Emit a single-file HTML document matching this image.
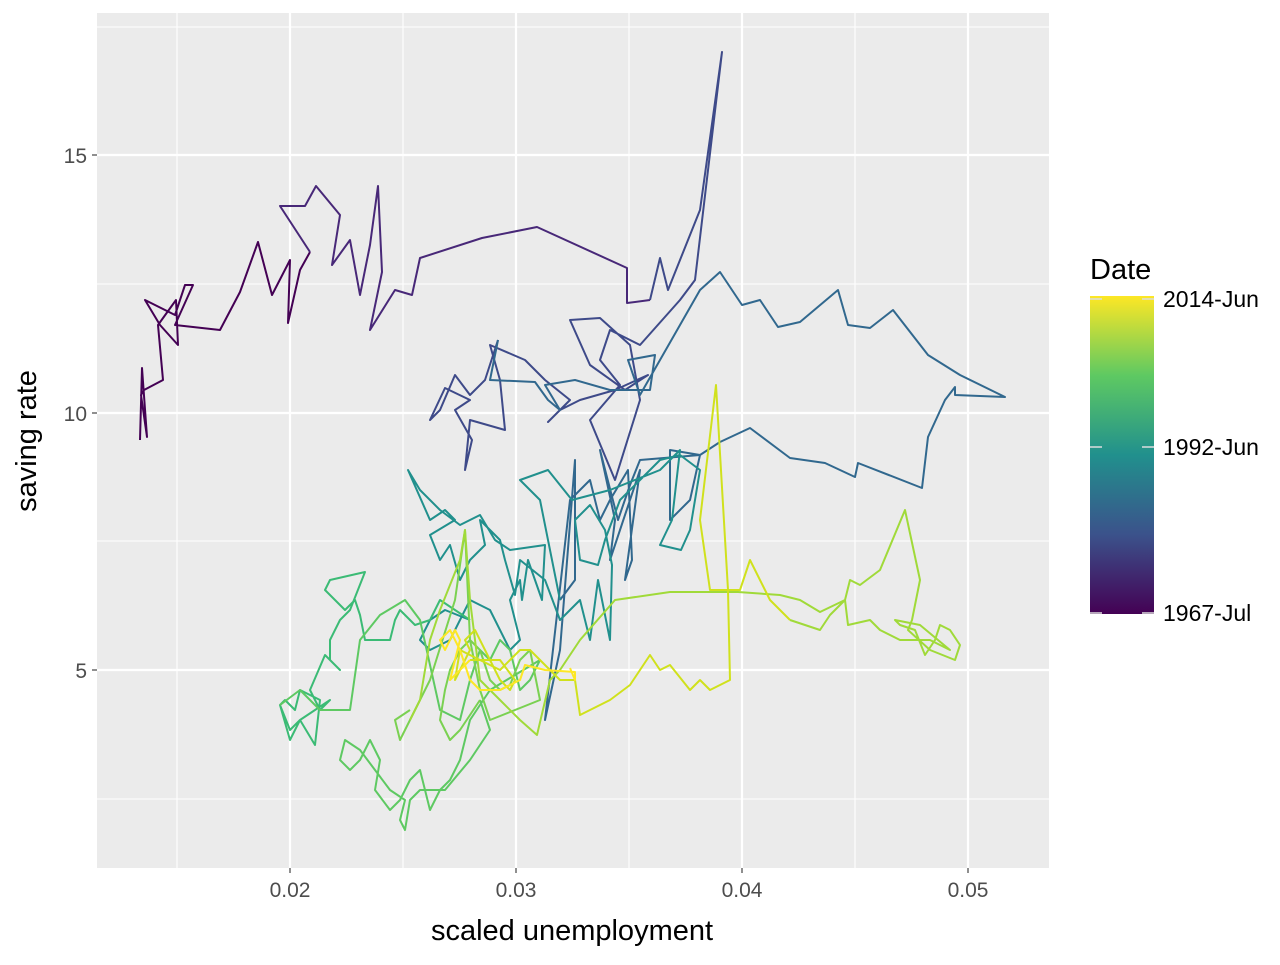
<!DOCTYPE html>
<html><head><meta charset="utf-8"><style>
html,body{margin:0;padding:0;background:#fff;}
svg text{font-family:"Liberation Sans",sans-serif;}
</style></head><body>
<svg width="1280" height="960" viewBox="0 0 1280 960" xmlns="http://www.w3.org/2000/svg">
<defs>
<linearGradient id="vg" x1="0" y1="1" x2="0" y2="0">
<stop offset="0" stop-color="#440154"/><stop offset="0.25" stop-color="#3b528b"/>
<stop offset="0.5" stop-color="#21908d"/><stop offset="0.75" stop-color="#5ec962"/>
<stop offset="1" stop-color="#fde725"/></linearGradient>
<clipPath id="cp"><rect x="97" y="13" width="952" height="855"/></clipPath>
</defs>
<rect x="97" y="13" width="952" height="855" fill="#ebebeb"/>
<g stroke="#fff" stroke-width="1.1">
<line x1="177" y1="13" x2="177" y2="868"/><line x1="403" y1="13" x2="403" y2="868"/>
<line x1="629" y1="13" x2="629" y2="868"/><line x1="855" y1="13" x2="855" y2="868"/>
<line x1="97" y1="27" x2="1049" y2="27"/><line x1="97" y1="284" x2="1049" y2="284"/>
<line x1="97" y1="541" x2="1049" y2="541"/><line x1="97" y1="799" x2="1049" y2="799"/>
</g>
<g stroke="#fff" stroke-width="2.2">
<line x1="290" y1="13" x2="290" y2="868"/><line x1="516" y1="13" x2="516" y2="868"/>
<line x1="742" y1="13" x2="742" y2="868"/><line x1="968" y1="13" x2="968" y2="868"/>
<line x1="97" y1="155" x2="1049" y2="155"/><line x1="97" y1="413" x2="1049" y2="413"/>
<line x1="97" y1="670" x2="1049" y2="670"/>
</g>
<g clip-path="url(#cp)" fill="none" stroke-width="2" stroke-linejoin="round">
<polyline stroke="#440154" points="140,440 142,368 147,437 141,395 144,390 163,380 158,325 176,300 178,345 160,325 145,300 175,315 185,285 193,285 175,325 220,330 240,292 258,242 272,295 290,260 288,323 300,270 310,252"/>
<polyline stroke="#482878" points="310,252 280,206 305,206 316,186 340,215 332,265 350,240 360,295 370,245 378,186 382,272 370,330 395,290 412,295 420,258 482,238 537,227 627,268 627,303 650,300"/>
<polyline stroke="#3e4a89" points="650,300 660,258 668,290 700,210 722,52 695,280 680,300 640,345 610,330 600,360 620,385 590,420 615,480 640,400 630,345 600,318 570,320 590,365 625,390 648,375 615,390 580,400 560,410 548,422 570,400 545,380 525,360 490,345 500,380 505,430 470,420 465,470 472,440 455,410 470,400 445,388 430,420 440,410 455,375 470,395 485,380 498,340"/>
<polyline stroke="#31688e" points="498,340 490,380 535,382 548,400 560,410 545,385 575,380 610,390 650,390 655,355 628,360 640,395 700,290 720,272 742,305 760,300 778,327 800,322 838,290 848,325 870,328 893,310 928,355 960,375 1005,397 955,395 955,387 945,400 928,437 922,488 858,463 855,477 825,463 790,458 750,428 720,442 700,455 670,450 670,520 690,500 700,455 640,460 630,485 618,520 600,450 615,520 610,560 640,470 625,580 632,560 628,470 610,500 600,520 590,480 570,500 545,720 560,650 575,460 575,580 560,600"/>
<polyline stroke="#21908d" points="560,600 540,500 520,480 548,470 572,500 610,490 660,470 680,450 672,520 660,545 681,550 690,530 700,470 680,455 660,460 640,480 620,500 605,540 598,565 580,560 575,520 590,505 605,530 612,565 610,640 598,580 590,640 580,600 560,620 545,580 520,560 515,595 505,560 500,540 480,520 485,545 470,560 460,580 450,545 440,560 430,535 455,520 445,510 430,520 408,470 420,490 440,510 460,525 480,515 495,540 510,550 545,545 542,600 528,560 522,600 520,580 510,600 520,640 510,650 490,610 470,600 450,640 430,650 420,640 430,620 445,610 470,620"/>
<polyline stroke="#3bbb75" points="470,620 455,610 440,600 430,620 415,625 400,610 395,620 390,640 365,640 360,615 355,600 345,610 335,600 325,590 330,580 365,572 350,610 340,620 330,640 330,660 340,670 325,655 310,690 320,710 330,700 300,720 290,730 280,705 290,740 300,720 315,745 320,700 300,690 295,710 285,700 280,705"/>
<polyline stroke="#5ec962" points="280,705 300,690 320,710 350,710 360,640 380,615 405,600 420,620 440,710 460,720 470,680 480,650 490,660 500,640 510,650 520,690 530,680 540,660 490,690 470,720 460,760 450,780 440,790 430,810 425,790 420,770 410,780 400,800 390,810 375,790 380,760 370,740 360,760 350,770 340,760 345,740 360,750 375,770 390,790 405,800 400,820 405,830 410,800 420,790 445,790 470,760 490,730 480,700"/>
<polyline stroke="#7ad151" points="480,700 460,730 450,740 440,720 445,690 450,670 460,650 470,640 480,650 490,680 500,690 510,685 520,660 530,650 540,700 490,720 480,690 470,640 465,530 455,600 430,680 410,720 400,740 395,720 410,710"/>
<polyline stroke="#a0da39" points="410,720 420,700 430,640 440,610 460,560 465,530 470,600 480,680 500,700 520,720 537,735 550,680 560,670 580,640 615,600 670,592 738,592 780,595 800,600 820,612 845,600 850,580 860,585 880,570 905,510 920,580 912,620 908,630 930,650 955,660 960,645 950,630 940,625 935,640 925,655 915,630 900,625 895,620 920,625 950,650 930,640 900,640 880,630 870,620 848,625 845,600 830,615 820,630 790,620"/>
<polyline stroke="#d0e11c" points="790,620 770,600 750,560 740,590 710,590 700,520 716,385 728,590 730,680 710,690 700,680 690,690 670,665 660,670 650,655 630,685 610,700 580,715 575,680 560,680 540,660 530,650 520,650 510,660 500,670 460,650 455,680 470,650 465,640 475,630 490,660 500,680 510,690 515,680 500,660 470,660"/>
<polyline stroke="#fde725" points="470,660 450,680 460,640 455,630 445,650 440,640 450,630 460,650 470,680 480,690 500,690 520,680 525,665 545,670 575,672 575,680 570,668"/>
</g>
<g stroke="#333" stroke-width="1.1">
<line x1="92" y1="155" x2="97" y2="155"/><line x1="92" y1="413" x2="97" y2="413"/><line x1="92" y1="670" x2="97" y2="670"/>
<line x1="290" y1="868" x2="290" y2="873"/><line x1="516" y1="868" x2="516" y2="873"/>
<line x1="742" y1="868" x2="742" y2="873"/><line x1="968" y1="868" x2="968" y2="873"/>
</g>
<g fill="#4d4d4d" font-size="21">
<text x="87" y="163" text-anchor="end">15</text>
<text x="87" y="421" text-anchor="end">10</text>
<text x="87" y="678" text-anchor="end">5</text>
<text x="290" y="897" text-anchor="middle">0.02</text>
<text x="516" y="897" text-anchor="middle">0.03</text>
<text x="742" y="897" text-anchor="middle">0.04</text>
<text x="968" y="897" text-anchor="middle">0.05</text>
</g>
<text x="572" y="940" font-size="29" text-anchor="middle" fill="#000">scaled unemployment</text>
<text transform="translate(36,441) rotate(-90)" font-size="29" text-anchor="middle" fill="#000">saving rate</text>
<text x="1090" y="279" font-size="29" fill="#000">Date</text>
<rect x="1090" y="296" width="64" height="318" fill="url(#vg)"/>
<g stroke="#ddd" stroke-width="1.5">
<line x1="1090" y1="299" x2="1102" y2="299"/><line x1="1142" y1="299" x2="1154" y2="299"/>
<line x1="1090" y1="447" x2="1102" y2="447"/><line x1="1142" y1="447" x2="1154" y2="447"/>
<line x1="1090" y1="613" x2="1102" y2="613"/><line x1="1142" y1="613" x2="1154" y2="613"/>
</g>
<g font-size="23" fill="#000">
<text x="1163" y="307">2014-Jun</text>
<text x="1163" y="455">1992-Jun</text>
<text x="1163" y="621">1967-Jul</text>
</g>
</svg>
</body></html>
